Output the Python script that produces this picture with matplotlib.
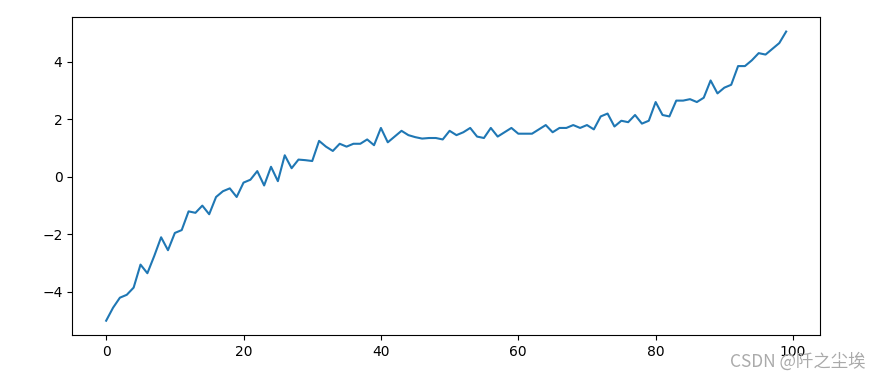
import numpy as np
from matplotlib import pyplot as plt

x = np.arange(100)
y = [-5.0, -4.55, -4.2, -4.1, -3.85, -3.05, -3.35, -2.75, -2.1, -2.55,
     -1.95, -1.85, -1.2, -1.25, -1.0, -1.3, -0.7, -0.5, -0.4, -0.7,
     -0.2, -0.1, 0.2, -0.3, 0.35, -0.15, 0.75, 0.3, 0.6, 0.58,
     0.55, 1.25, 1.05, 0.9, 1.15, 1.05, 1.15, 1.15, 1.3, 1.1,
     1.7, 1.2, 1.4, 1.6, 1.45, 1.38, 1.33, 1.35, 1.35, 1.3,
     1.6, 1.45, 1.55, 1.7, 1.4, 1.35, 1.7, 1.4, 1.55, 1.7,
     1.5, 1.5, 1.5, 1.65, 1.8, 1.55, 1.7, 1.7, 1.8, 1.7,
     1.8, 1.65, 2.1, 2.2, 1.75, 1.95, 1.9, 2.15, 1.85, 1.95,
     2.6, 2.15, 2.1, 2.65, 2.65, 2.7, 2.6, 2.75, 3.35, 2.9,
     3.1, 3.2, 3.85, 3.85, 4.05, 4.3, 4.25, 4.45, 4.65, 5.05]

fig = plt.figure(figsize=(8.8, 3.8), dpi=100)
ax = fig.add_axes([0.082, 0.118, 0.85, 0.837])
ax.plot(x, y)
ax.set_xticks([0, 20, 40, 60, 80, 100])
ax.set_yticks([-4, -2, 0, 2, 4])

# watermark, overlaps the last tick label like in the original
fig.text(0.983, 0.025, 'CSDN @阡之尘埃', ha='right', va='bottom', color='#aaaaaa',
         fontsize=12.5, family=['Noto Sans CJK SC', 'DejaVu Sans'])

fig.savefig('out.png')
